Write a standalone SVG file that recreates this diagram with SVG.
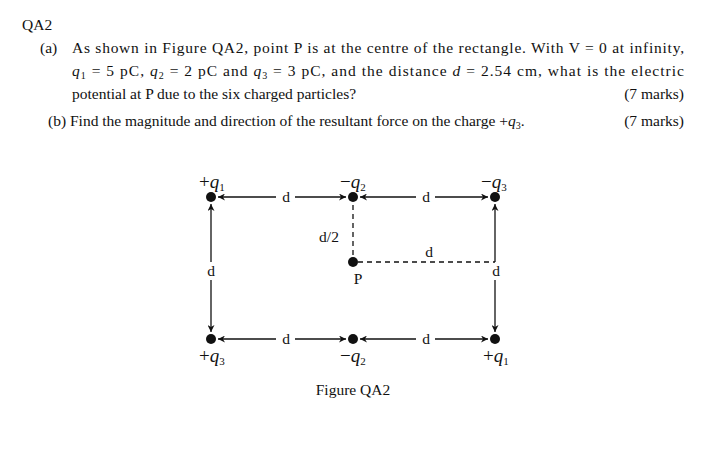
<svg xmlns="http://www.w3.org/2000/svg" width="708" height="468" viewBox="0 0 708 468">
<style>
text{font-family:"Liberation Serif",serif;font-size:15.5px;fill:#111}
.q{font-size:19px}
.q tspan.s{font-size:11px}
.l{stroke:#111;stroke-width:1.3;fill:none}
.dash{stroke:#111;stroke-width:1.3;stroke-dasharray:5,4;fill:none}
.c{fill:#111}
.m{text-anchor:middle}
</style>
<defs>
<marker id="a" viewBox="0 0 10 10" refX="10" refY="5" markerWidth="7" markerHeight="7" orient="auto-start-reverse" markerUnits="userSpaceOnUse"><path d="M0,0 L10,5 L0,10 L3,5 Z" fill="#111"/></marker>
</defs>
<rect width="708" height="468" fill="#fff"/>
<text x="22" y="30">QA2</text>
<text x="40" y="53">(a)</text>
<text x="72" y="53" textLength="612" lengthAdjust="spacing">As shown in Figure QA2, point P is at the centre of the rectangle. With V = 0 at infinity,</text>
<text x="72" y="76" textLength="612" lengthAdjust="spacing"><tspan font-style="italic">q</tspan><tspan font-size="10" dy="3">1</tspan><tspan dy="-3"> = 5 pC, </tspan><tspan font-style="italic">q</tspan><tspan font-size="10" dy="3">2</tspan><tspan dy="-3"> = 2 pC and </tspan><tspan font-style="italic">q</tspan><tspan font-size="10" dy="3">3</tspan><tspan dy="-3"> = 3 pC, and the distance </tspan><tspan font-style="italic">d</tspan> = 2.54 cm, what is the electric</text>
<text x="72" y="99">potential at P due to the six charged particles?</text>
<text x="684" y="99" text-anchor="end">(7 marks)</text>
<text x="48" y="126">(b) Find the magnitude and direction of the resultant force on the charge +<tspan font-style="italic">q</tspan><tspan font-size="10" dy="3">3</tspan><tspan dy="-3">.</tspan></text>
<text x="684" y="126" text-anchor="end">(7 marks)</text>

<g id="connectors">
<line class="l" x1="276" y1="197" x2="218" y2="197" marker-end="url(#a)"/>
<line class="l" x1="295" y1="197" x2="346" y2="197" marker-end="url(#a)"/>
<line class="l" x1="416" y1="197" x2="360" y2="197" marker-end="url(#a)"/>
<line class="l" x1="435" y1="197" x2="488" y2="197" marker-end="url(#a)"/>
<line class="l" x1="276" y1="339" x2="218" y2="339" marker-end="url(#a)"/>
<line class="l" x1="295" y1="339" x2="346" y2="339" marker-end="url(#a)"/>
<line class="l" x1="416" y1="339" x2="360" y2="339" marker-end="url(#a)"/>
<line class="l" x1="435" y1="339" x2="488" y2="339" marker-end="url(#a)"/>
<line class="l" x1="211" y1="262" x2="211" y2="204" marker-end="url(#a)"/>
<line class="l" x1="211" y1="280" x2="211" y2="332" marker-end="url(#a)"/>
<line class="l" x1="495" y1="262" x2="495" y2="204" marker-end="url(#a)"/>
<line class="l" x1="495" y1="280" x2="495" y2="332" marker-end="url(#a)"/>
<line class="dash" x1="353" y1="205" x2="353" y2="256"/>
<line class="dash" x1="358" y1="262" x2="495" y2="262"/>
</g>
<g id="labels">
<text class="m" x="286" y="202">d</text>
<text class="m" x="426" y="202">d</text>
<text class="m" x="286" y="344">d</text>
<text class="m" x="426" y="344">d</text>
<text class="m" x="211" y="276">d</text>
<text class="m" x="496" y="276">d</text>
<text class="m" x="429" y="257">d</text>
<text class="m" x="329" y="242">d/2</text>
<text class="m" x="358" y="284">P</text>
<text class="m" x="353" y="395">Figure QA2</text>
</g>
<g id="n1"><circle class="c" cx="211" cy="197" r="5"/><text class="q" x="199" y="188">+<tspan font-style="italic">q</tspan><tspan class="s" dy="3">1</tspan></text></g>
<g id="n2"><circle class="c" cx="353" cy="197" r="5"/><text class="q" x="340" y="188">−<tspan font-style="italic">q</tspan><tspan class="s" dy="3">2</tspan></text></g>
<g id="n3"><circle class="c" cx="495" cy="197" r="5"/><text class="q" x="481" y="188">−<tspan font-style="italic">q</tspan><tspan class="s" dy="3">3</tspan></text></g>
<g id="n4"><circle class="c" cx="211" cy="339" r="5"/><text class="q" x="199" y="362">+<tspan font-style="italic">q</tspan><tspan class="s" dy="3">3</tspan></text></g>
<g id="n5"><circle class="c" cx="353" cy="339" r="5"/><text class="q" x="340" y="362">−<tspan font-style="italic">q</tspan><tspan class="s" dy="3">2</tspan></text></g>
<g id="n6"><circle class="c" cx="495" cy="339" r="5"/><text class="q" x="483" y="362">+<tspan font-style="italic">q</tspan><tspan class="s" dy="3">1</tspan></text></g>
<g id="P"><circle class="c" cx="353" cy="262" r="5"/></g>
</svg>
